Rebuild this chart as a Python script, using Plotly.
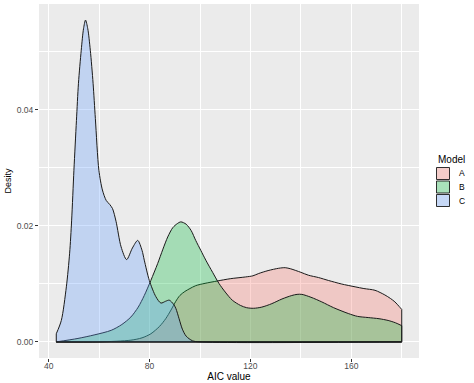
import plotly.graph_objects as go

# ---------------- data ----------------
models = ["A", "B", "C"]

aic_a = [43.0, 60.0, 72.6, 77.0, 80.5, 84.0, 86.4, 88.5, 90.4, 92.0, 94.0, 96.0, 98.3,
         102.0, 106.8, 112.0, 118.0, 121.0, 123.3, 127.0, 131.2, 133.8, 136.0, 140.0,
         143.0, 147.0, 150.9, 156.0, 161.5, 165.0, 169.4, 173.3, 175.5, 177.3, 179.0, 180.0]
dens_a = [0.0000, 0.0000, 0.0003, 0.0007, 0.0014, 0.0027, 0.0040, 0.0055, 0.0070, 0.0080,
          0.0087, 0.0092, 0.0097, 0.0101, 0.0105, 0.0109, 0.0112, 0.0114, 0.0118, 0.0123,
          0.0127, 0.0128, 0.0126, 0.0120, 0.0115, 0.0111, 0.0106, 0.0100, 0.0095, 0.0092,
          0.0089, 0.0081, 0.0075, 0.0069, 0.0061, 0.0056]

aic_b = [43.0, 51.6, 58.0, 64.8, 69.0, 72.6, 75.5, 77.9, 80.5, 83.2, 85.3, 87.2, 89.2,
         91.0, 92.4, 94.5, 96.5, 98.3, 100.3, 102.3, 105.0, 107.5, 110.0, 112.8, 116.0,
         118.5, 121.3, 124.5, 128.5, 132.5, 136.4, 138.5, 140.4, 144.0, 148.3, 153.0,
         158.8, 162.5, 166.7, 171.0, 174.6, 177.5, 180.0]
dens_b = [0.0000, 0.0006, 0.0012, 0.0020, 0.0030, 0.0043, 0.0060, 0.0080, 0.0106, 0.0135,
          0.0160, 0.0181, 0.0197, 0.0204, 0.0207, 0.0203, 0.0192, 0.0175, 0.0158, 0.0141,
          0.0120, 0.0101, 0.0086, 0.0072, 0.0063, 0.0059, 0.0058, 0.0060, 0.0066, 0.0074,
          0.0080, 0.0082, 0.0082, 0.0077, 0.0069, 0.0059, 0.0049, 0.0044, 0.0042, 0.0040,
          0.0037, 0.0033, 0.0028]

aic_c = [43.0, 45.0, 47.0, 48.3, 49.1, 50.0, 51.0, 51.8, 52.9, 53.8, 54.6, 55.5, 56.5,
         57.6, 58.5, 59.9, 61.3, 62.8, 64.2, 65.3, 66.7, 68.7, 70.9, 73.2, 75.3, 77.0,
         77.9, 79.9, 82.5, 84.5, 86.3, 87.8, 89.5, 90.4, 91.7, 93.0, 94.5, 97.0, 100.0, 180.0]
dens_c = [0.0014, 0.0037, 0.0095, 0.0153, 0.0210, 0.0296, 0.0382, 0.0446, 0.0503, 0.0540,
          0.0555, 0.0540, 0.0503, 0.0446, 0.0385, 0.0296, 0.0262, 0.0244, 0.0237, 0.0230,
          0.0208, 0.0164, 0.0142, 0.0162, 0.0175, 0.0158, 0.0141, 0.0106, 0.0078, 0.0067,
          0.0070, 0.0072, 0.0065, 0.0058, 0.0040, 0.0022, 0.0010, 0.0002, 0.0000, 0.0000]

x_ticks = [40, 80, 120, 160]
y_ticks = [0.00, 0.02, 0.04]
y_tick_labels = ["0.00", "0.02", "0.04"]

# ---------------- style ----------------
base_rgb = {"A": (248, 118, 109), "B": (0, 186, 56), "C": (97, 156, 255)}
ALPHA = 0.3
LINE = "#1a1a1a"
FONT = "Liberation Sans, Arial, sans-serif"

W, H = 474, 383
ML, MR, MT, MB = 39, 55, 4, 25


def px_x(p):
    return (p - ML) / (W - ML - MR)


def px_y(p):
    return (H - MB - p) / (H - MT - MB)


def rgba(m):
    r, g, b = base_rgb[m]
    return f"rgba({r},{g},{b},{ALPHA})"


series = {"A": (aic_a, dens_a), "B": (aic_b, dens_b), "C": (aic_c, dens_c)}

fig = go.Figure()
for m in models:
    xs, ys = series[m]
    # filled density curve
    fig.add_trace(go.Scatter(
        x=xs, y=ys, mode="lines", name=m, fill="tozeroy", fillcolor=rgba(m),
        line=dict(color=LINE, width=1.0, shape="spline", smoothing=0.8),
        showlegend=False, hoverinfo="x+y+name"))
    # outline along the base and end edges of the polygon
    fig.add_trace(go.Scatter(
        x=[xs[-1], xs[-1], xs[0], xs[0]], y=[ys[-1], 0, 0, ys[0]],
        mode="lines", line=dict(color=LINE, width=1.0),
        showlegend=False, hoverinfo="skip"))

x_min, x_max = min(aic_a + aic_b + aic_c), max(aic_a + aic_b + aic_c)
y_max = max(dens_a + dens_b + dens_c)
xpad = 0.05 * (x_max - x_min)
ypad = 0.05 * y_max

axis_common = dict(
    showline=False, zeroline=False, showgrid=True, gridcolor="white", gridwidth=1.1,
    ticks="outside", ticklen=3, tickwidth=1, tickcolor="#333333",
    tickfont=dict(family=FONT, size=8.5, color="#4D4D4D"),
)

fig.update_layout(
    width=W, height=H,
    margin=dict(l=ML, r=MR, t=MT, b=MB, autoexpand=False),
    paper_bgcolor="white", plot_bgcolor="#EBEBEB",
    font=dict(family=FONT),
    xaxis=dict(
        range=[x_min - xpad, x_max + xpad], tickvals=x_ticks, ticklabelstandoff=-3,
        minor=dict(dtick=40, tick0=60, showgrid=True, gridcolor="white", gridwidth=0.5, ticks=""),
        title=dict(text="AIC value", font=dict(family=FONT, size=10, color="black"), standoff=1),
        **axis_common),
    yaxis=dict(
        range=[-ypad, y_max + ypad], tickvals=y_ticks, ticktext=y_tick_labels,
        minor=dict(dtick=0.02, tick0=0.01, showgrid=True, gridcolor="white", gridwidth=0.5, ticks=""),
        title=dict(text="Desity", font=dict(family=FONT, size=9, color="black"), standoff=3),
        **axis_common),
    showlegend=False,
)

# ---------------- legend (ggplot-style keys) ----------------
fig.add_annotation(x=px_x(436), y=px_y(159), xref="paper", yref="paper",
                   text="Model", showarrow=False, xanchor="left", yanchor="middle",
                   font=dict(family=FONT, size=10, color="black"))
key_w, key_h, key_step, key_top = 14, 13, 13.5, 167
for i, m in enumerate(models):
    top = key_top + i * key_step
    fig.add_shape(type="rect", xref="paper", yref="paper",
                  x0=px_x(436), x1=px_x(436 + key_w), y0=px_y(top + key_h), y1=px_y(top),
                  fillcolor="#F2F2F2", line=dict(width=0), layer="above")
    fig.add_shape(type="rect", xref="paper", yref="paper",
                  x0=px_x(436.5), x1=px_x(436 + key_w - 0.5), y0=px_y(top + key_h - 0.5), y1=px_y(top + 0.5),
                  fillcolor=rgba(m), line=dict(color=LINE, width=0.9), layer="above")
    fig.add_annotation(x=px_x(457), y=px_y(top + key_h / 2), xref="paper", yref="paper",
                       text=m, showarrow=False, xanchor="left", yanchor="middle",
                       font=dict(family=FONT, size=8.5, color="black"))

fig.write_html("out.html", config={"displayModeBar": False},
               post_script="document.body.style.margin='0';document.body.style.overflow='hidden';")
